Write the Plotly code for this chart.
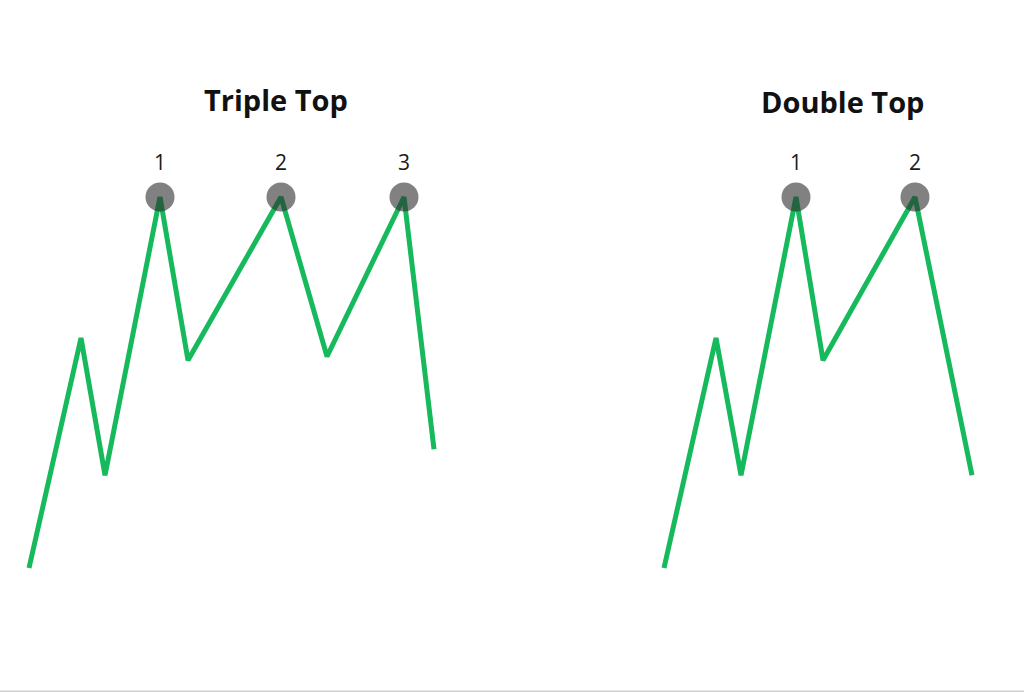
import plotly.graph_objects as go

# price path (time step, price level)
triple_x = [0, 5.2, 7.6, 13.1, 15.9, 25.2, 29.8, 37.5, 40.5]
triple_y = [0, 62, 25, 100, 56, 100, 57, 100, 32]
triple_peaks_x = [13.1, 25.2, 37.5]
triple_peaks_y = [100, 100, 100]
triple_labels = ["1", "2", "3"]

double_x = [0, 5.2, 7.7, 13.2, 15.9, 25.1, 30.8]
double_y = [0, 62, 25, 100, 56, 100, 25]
double_peaks_x = [13.2, 25.1]
double_peaks_y = [100, 100]
double_labels = ["1", "2"]

titles = ["Triple Top", "Double Top"]

green = "rgb(22,185,92)"
peak_color = "rgba(45,45,45,0.6)"

fig = go.Figure()

fig.add_trace(go.Scatter(x=triple_x, y=triple_y, mode="lines",
                         line=dict(color=green, width=5), xaxis="x", yaxis="y"))
fig.add_trace(go.Scatter(x=triple_peaks_x, y=triple_peaks_y, mode="markers",
                         marker=dict(size=29, color=peak_color), xaxis="x", yaxis="y"))

fig.add_trace(go.Scatter(x=double_x, y=double_y, mode="lines",
                         line=dict(color=green, width=5), xaxis="x2", yaxis="y"))
fig.add_trace(go.Scatter(x=double_peaks_x, y=double_peaks_y, mode="markers",
                         marker=dict(size=29, color=peak_color), xaxis="x2", yaxis="y"))

# peak numbers
for xs, ys, labs, xref in [(triple_peaks_x, triple_peaks_y, triple_labels, "x"),
                           (double_peaks_x, double_peaks_y, double_labels, "x2")]:
    for px, py, lab in zip(xs, ys, labs):
        fig.add_annotation(x=px, y=py, xref=xref, yref="y", text=lab, showarrow=False,
                           yshift=35, font=dict(family="Open Sans", size=21, color="#1a1a1a"))

# panel titles
for tx, ty, t in [(0.2695, 0.856, titles[0]), (0.8225, 0.854, titles[1])]:
    fig.add_annotation(x=tx, y=ty, xref="paper", yref="paper", text="<b>" + t + "</b>",
                       xanchor="center", yanchor="middle", showarrow=False,
                       font=dict(family="Open Sans", size=29, color="#111"))

# thin rule at the bottom edge
fig.add_shape(type="line", xref="paper", yref="paper", x0=0, x1=1, y0=0.004, y1=0.004,
              line=dict(color="#d0d0d0", width=1.5))

axis_off = dict(visible=False, showgrid=False, zeroline=False, fixedrange=True)
fig.update_layout(
    width=1024, height=694,
    margin=dict(l=0, r=0, t=0, b=0),
    paper_bgcolor="white", plot_bgcolor="white",
    showlegend=False,
    xaxis=dict(domain=[0, 0.5], range=[-2.9, 48.3], **axis_off),
    xaxis2=dict(domain=[0.5, 1], range=[-15.2, 36.0], **axis_off),
    yaxis=dict(range=[-33.96, 153.1], **axis_off),
)

fig.write_html("out.html", config={"displayModeBar": False},
               post_script="document.body.style.margin='0';document.body.style.overflow='hidden';")
